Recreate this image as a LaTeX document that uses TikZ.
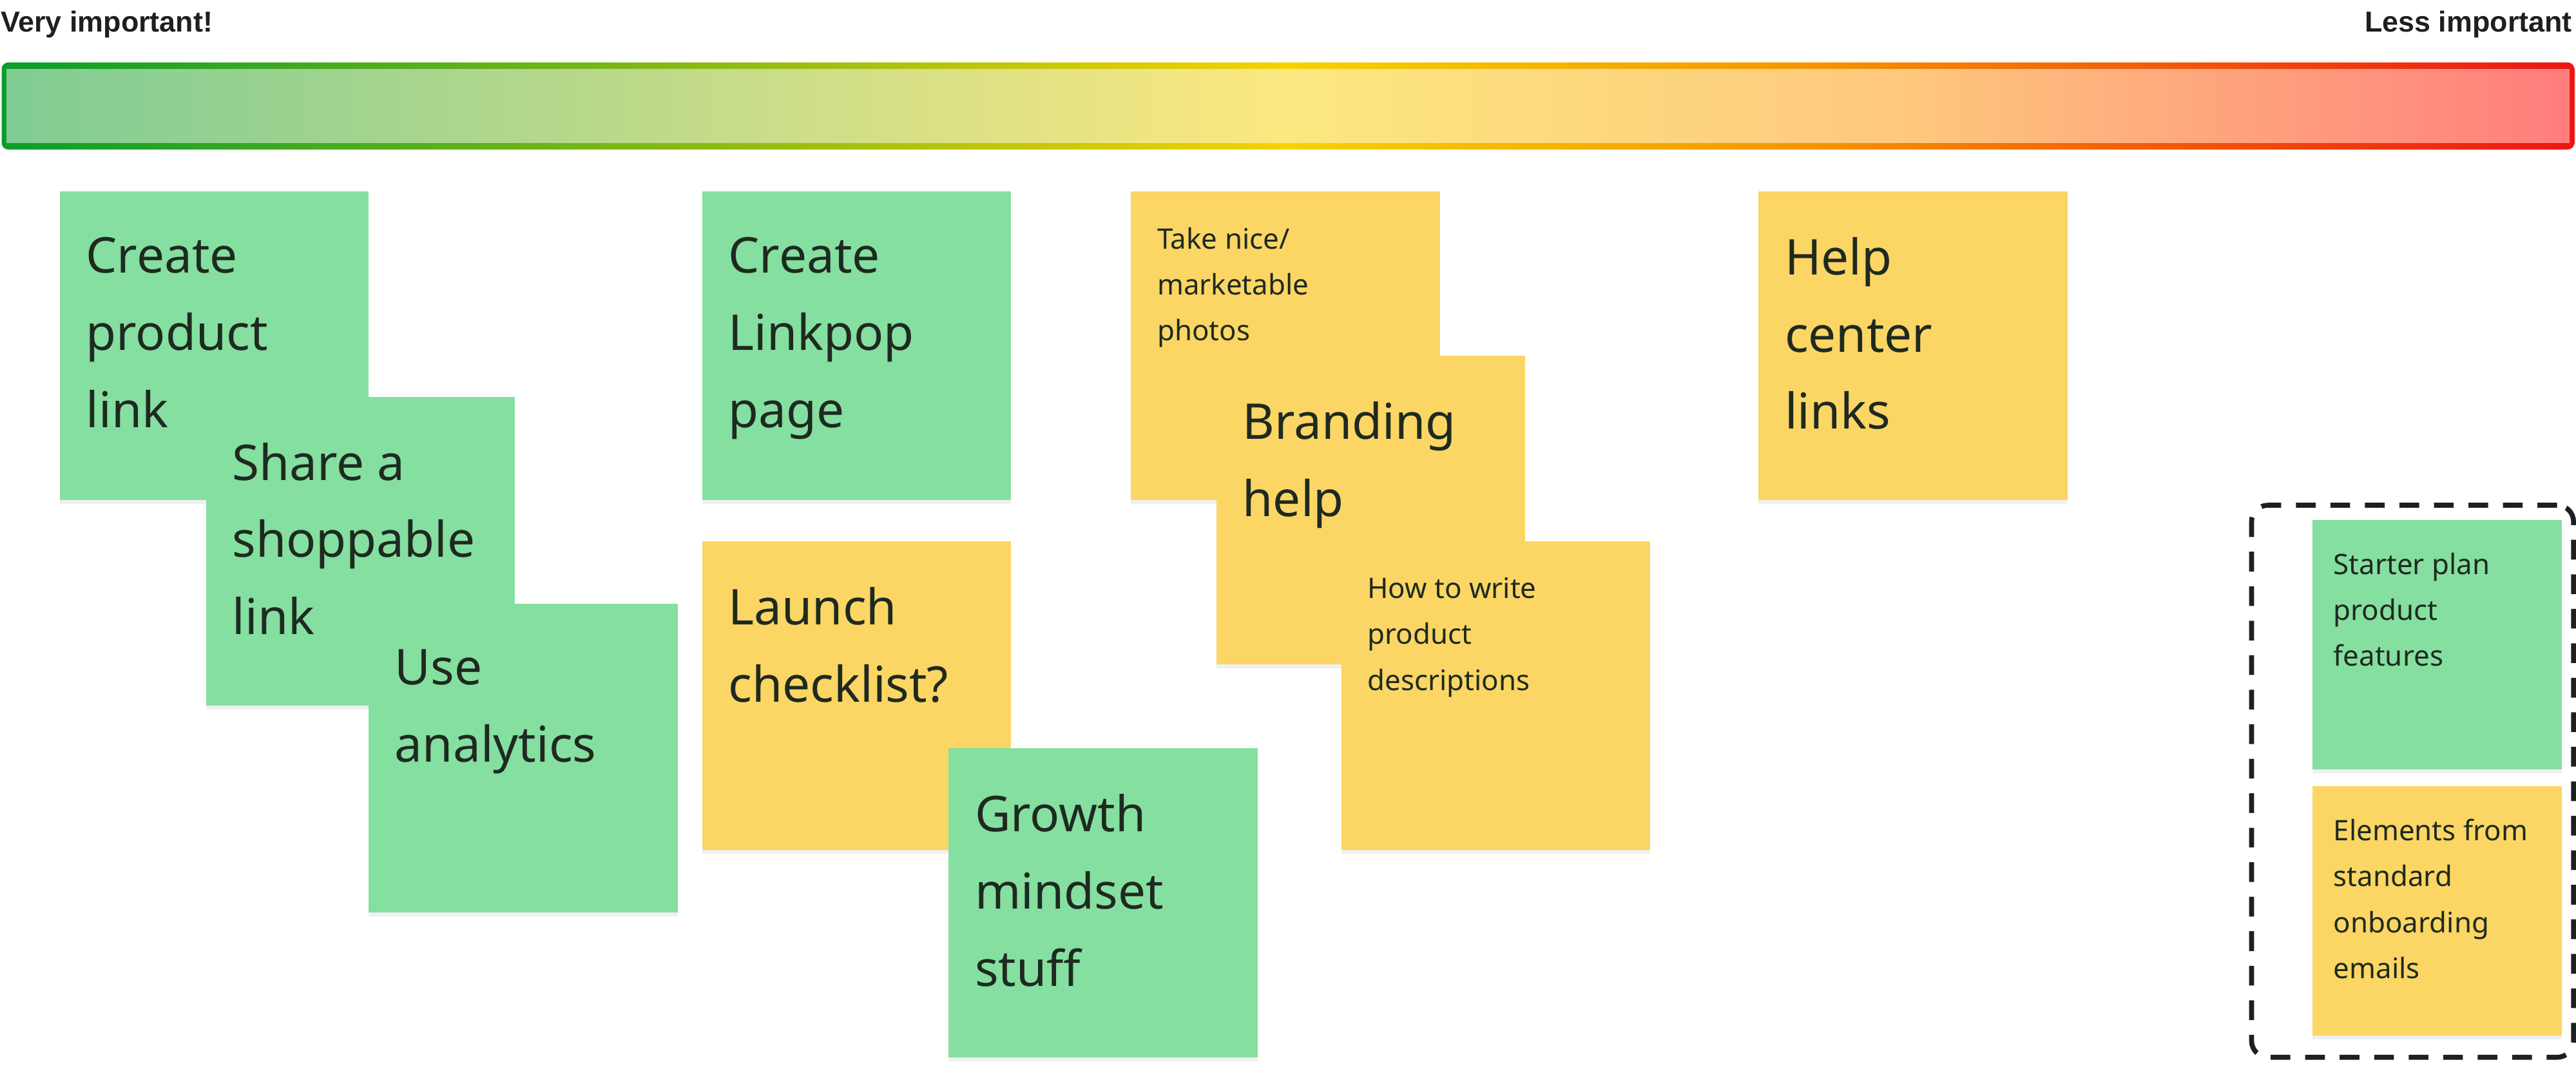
\documentclass[tikz,border=0pt]{standalone}
\usepackage{fontspec}
\setmainfont{Noto Sans}
\newfontfamily\hdrfont{Liberation Sans}
\usetikzlibrary{shadows}
\definecolor{G}{HTML}{85DFA0}
\definecolor{Y}{HTML}{FCD664}
\definecolor{T}{HTML}{1E2A20}
\pgfdeclarehorizontalshading{barfill}{100bp}{color(0bp)=({rgb,255:red,128;green,204;blue,148}); color(25bp)=({rgb,255:red,128;green,204;blue,148}); color(50bp)=({rgb,255:red,252;green,232;blue,128}); color(62bp)=({rgb,255:red,254;green,200;blue,125}); color(75bp)=({rgb,255:red,255;green,125;blue,125}); color(100bp)=({rgb,255:red,255;green,125;blue,125})}
\pgfdeclarehorizontalshading{barline}{100bp}{color(0bp)=({rgb,255:red,10;green,158;blue,42}); color(25bp)=({rgb,255:red,10;green,158;blue,42}); color(50bp)=({rgb,255:red,245;green,210;blue,0}); color(60bp)=({rgb,255:red,245;green,150;blue,0}); color(75bp)=({rgb,255:red,238;green,20;blue,20}); color(100bp)=({rgb,255:red,238;green,20;blue,20})}
\tikzset{
 stk/.style={anchor=north west,inner sep=0pt,minimum width=94pt,minimum height=94pt,draw=none,
   drop shadow={shadow xshift=0pt,shadow yshift=-1.2pt,opacity=0.12}},
 small/.style={stk,minimum width=76pt,minimum height=76pt},
 bigt/.style={anchor=north west,inner sep=0pt,align=left,text=T,font=\fontsize{15}{23.5}\selectfont},
 smallt/.style={anchor=north west,inner sep=0pt,align=left,text=T,font=\fontsize{8.6}{14}\selectfont},
 hdr/.style={inner sep=0pt,font=\hdrfont\bfseries\fontsize{8.8}{10}\selectfont,text=black!88}
}
\begin{document}
\begin{tikzpicture}[x=0.5pt,y=-0.5pt]
\useasboundingbox (0,0) rectangle (1568,657);
\node[hdr,anchor=west] (h1) at (0,15) {Very important!};
\node[hdr,anchor=east] (h2) at (1566,15) {Less important};
\shade[shading=barline,rounded corners=2pt] (1,38) rectangle (1567,91);
\shade[shading=barfill] (4,42) rectangle (1564,87);
% stickies
\node[stk,fill=G] (a) at (36,116) {};
\node[bigt] at ([xshift=8pt,yshift=-14pt]a.north west) {Create\\product\\link};
\node[stk,fill=G] (b) at (125,241) {};
\node[bigt] at ([xshift=8pt,yshift=-14pt]b.north west) {Share a\\shoppable\\link};
\node[stk,fill=G] (c) at (224,367) {};
\node[bigt] at ([xshift=8pt,yshift=-14pt]c.north west) {Use\\analytics};
\node[stk,fill=G] (d) at (427,116) {};
\node[bigt] at ([xshift=8pt,yshift=-14pt]d.north west) {Create\\Linkpop\\page};
\node[stk,fill=Y] (e) at (427,329) {};
\node[bigt] at ([xshift=8pt,yshift=-14pt]e.north west) {Launch\\checklist?};
\node[stk,fill=G] (f) at (577,455) {};
\node[bigt] at ([xshift=8pt,yshift=-14pt]f.north west) {Growth\\mindset\\stuff};
\node[stk,fill=Y] (g) at (688,116) {};
\node[smallt] at ([xshift=8pt,yshift=-11pt]g.north west) {Take nice/\\marketable\\photos};
\node[stk,fill=Y] (h) at (740,216) {};
\node[bigt] at ([xshift=8pt,yshift=-14pt]h.north west) {Branding\\help};
\node[stk,fill=Y] (i) at (816,329) {};
\node[smallt] at ([xshift=8pt,yshift=-11pt]i.north west) {How to write\\product\\descriptions};
\node[stk,fill=Y] (j) at (1070,116) {};
\node[bigt] at ([xshift=8pt,yshift=-14pt]j.north west) {Help\\center\\links};
\node[draw=black!88,line width=1.5pt,dash pattern=on 6pt off 4.5pt,rounded corners=5pt,minimum width=98pt,minimum height=168pt,anchor=north west,inner sep=0pt] (box) at (1369,306) {};
\node[small,fill=G] (k) at (1407,316) {};
\node[smallt] at ([xshift=6.5pt,yshift=-10pt]k.north west) {Starter plan\\product\\features};
\node[small,fill=Y] (l) at (1407,478) {};
\node[smallt] at ([xshift=6.5pt,yshift=-10pt]l.north west) {Elements from\\standard\\onboarding\\emails};
\end{tikzpicture}
\end{document}
